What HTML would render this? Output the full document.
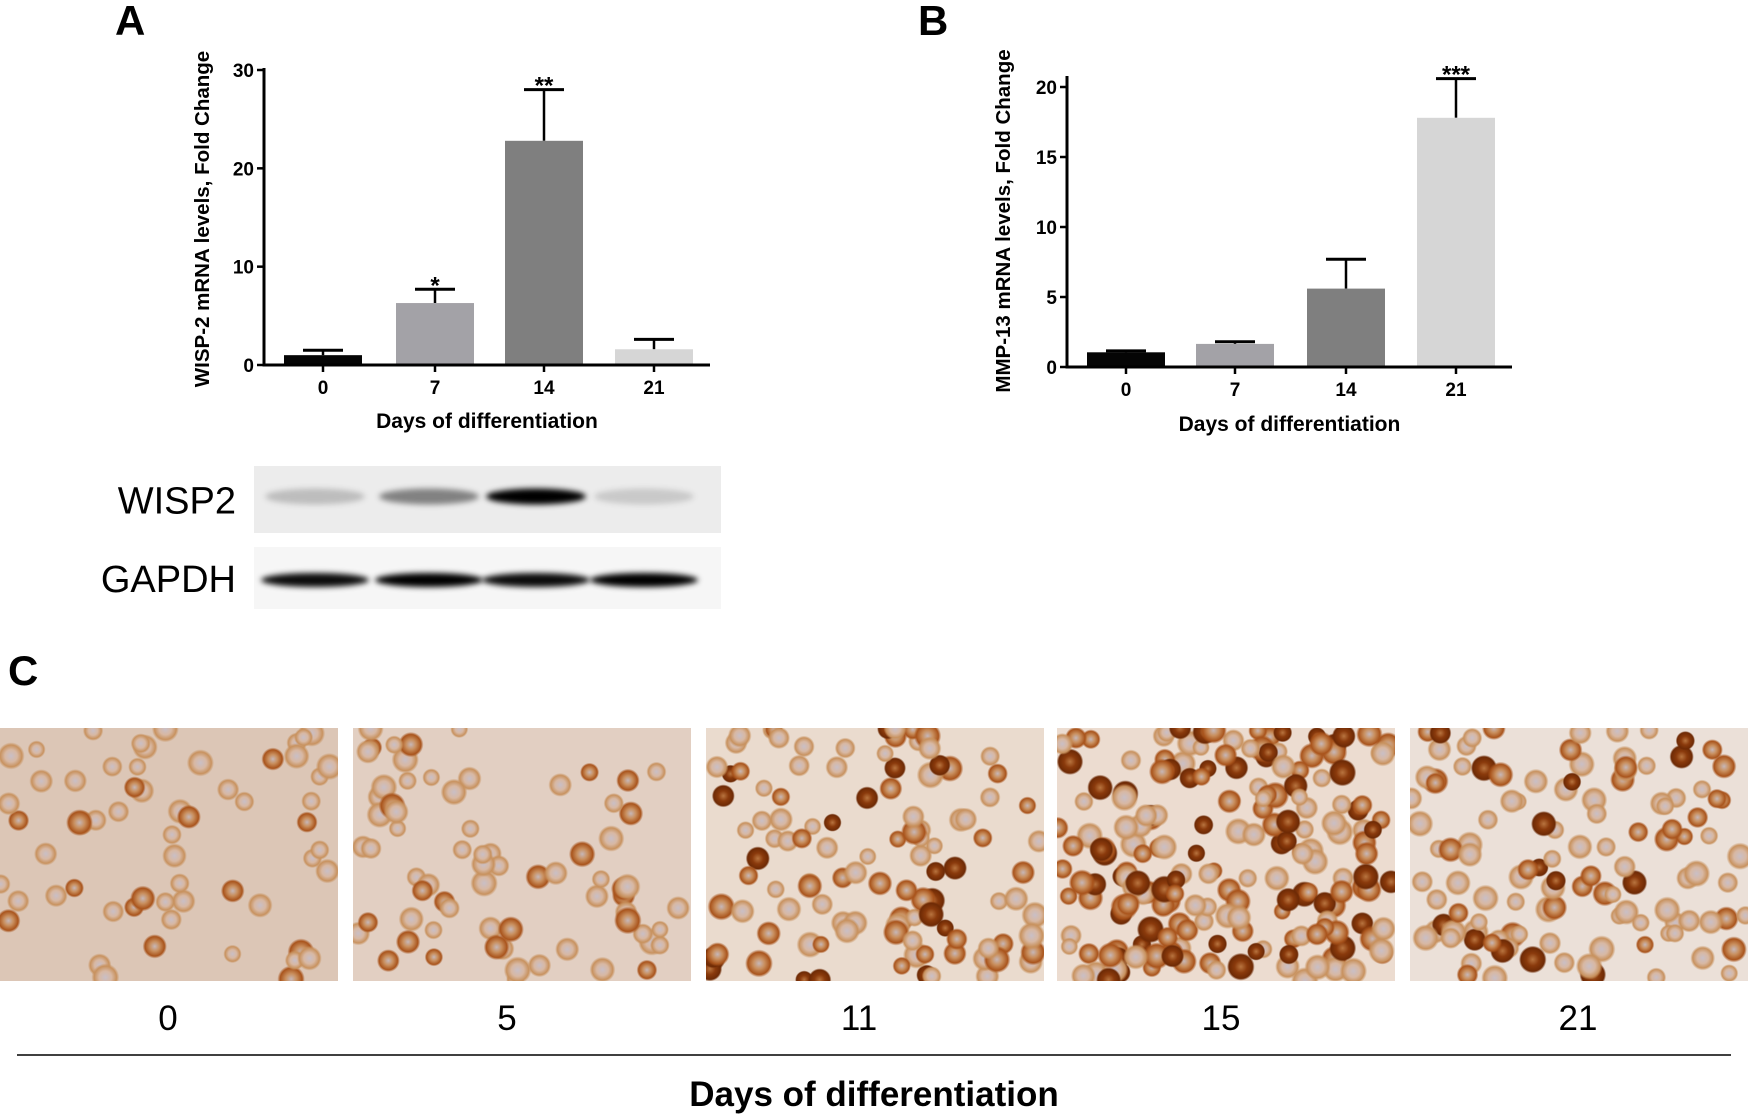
<!DOCTYPE html>
<html><head><meta charset="utf-8"><style>
body{margin:0;background:#fff;width:1748px;height:1115px;overflow:hidden;font-family:"Liberation Sans",sans-serif}
svg{position:absolute;left:0;top:0}
</style></head><body>
<svg id="fig" width="1748" height="1115" viewBox="0 0 1748 1115">
<defs>
<radialGradient id="cellL"><stop offset="0" stop-color="#c9bfc6"/><stop offset="0.45" stop-color="#d8b8a3"/><stop offset="0.8" stop-color="#c8925f"/><stop offset="1" stop-color="#c8925f" stop-opacity="0"/></radialGradient>
<radialGradient id="cellM"><stop offset="0" stop-color="#c6b7b8"/><stop offset="0.4" stop-color="#c98f5e"/><stop offset="0.8" stop-color="#a9541c"/><stop offset="1" stop-color="#a9541c" stop-opacity="0"/></radialGradient>
<radialGradient id="cellD"><stop offset="0" stop-color="#b8743f"/><stop offset="0.45" stop-color="#8a3a0c"/><stop offset="0.85" stop-color="#6e2a05"/><stop offset="1" stop-color="#6e2a05" stop-opacity="0"/></radialGradient>
<filter id="blur" x="-20%" y="-100%" width="140%" height="300%"><feGaussianBlur stdDeviation="3"/></filter>
</defs>
</svg>
<script>
// ---- chart data ----
const days = ["0","7","14","21"];
const wispMeans = [1.0, 6.3, 22.8, 1.6];
const wispErrs = [0.5, 1.4, 5.2, 1.0];
const wispStars = ["", "*", "**", ""];
const wispTicks = [0, 10, 20, 30];
const mmpMeans = [1.05, 1.65, 5.6, 17.8];
const mmpErrs = [0.1, 0.15, 2.1, 2.8];
const mmpStars = ["", "", "", "***"];
const mmpTicks = [0, 5, 10, 15, 20];
const barColors = ["#050505", "#a3a2a7", "#7f7f7f", "#d6d6d6"];
const wbWisp = [0.2, 0.45, 1.0, 0.15];
const wbGapdh = [0.95, 1.0, 0.95, 1.0];
const microDays = ["0","5","11","15","21"];

const NS = "http://www.w3.org/2000/svg";
const svg = document.getElementById('fig');
function mk(tag, attrs, parent){const e=document.createElementNS(NS,tag);for(const k in attrs)e.setAttribute(k,attrs[k]);(parent||svg).appendChild(e);return e;}
function txt(s, attrs, parent){const e=mk('text',attrs,parent);e.textContent=s;return e;}

function barChart(o){
  const g = mk('g',{});
  
  
  const y = v => o.y0 - (v/o.max)*(o.y0-o.yTop);
  const x = i => o.centers[i];
  o.means.forEach((m,i)=>{
    const el = o.errs[i];
    const ln = mk('line',{x1:x(i),x2:x(i),y1:y(m),y2:y(m+el),stroke:'#000','stroke-width':2.5},g);
    
    
    const cap = mk('line',{x1:x(i)-20,x2:x(i)+20,y1:y(m+el),y2:y(m+el),stroke:'#000','stroke-width':3},g);
    
    
    const r = mk('rect',{x:x(i)-o.bw/2,y:y(m),width:o.bw,height:o.y0-y(m),fill:barColors[i]},g);
    
    
    if(o.stars[i]){const s=txt(o.stars[i],{x:x(i),y:y(m+el)+4,'text-anchor':'middle','font-size':24,'font-weight':'bold'},g);
      
      }
    const t = txt(days[i],{x:x(i),y:o.y0+29,'text-anchor':'middle','font-size':19,'font-weight':'bold'},g);
    
    
    mk('line',{x1:x(i),x2:x(i),y1:o.y0,y2:o.y0+7,stroke:'#000','stroke-width':2.5},g);
  });
  const ya = mk('line',{x1:o.x0,x2:o.x0,y1:o.axTop,y2:o.y0+1.5,stroke:'#000','stroke-width':3},g);
  
  
  const xa = mk('line',{x1:o.x0-1.5,x2:o.x1,y1:o.y0,y2:o.y0,stroke:'#000','stroke-width':3},g);
  
  
  o.ticks.forEach(v=>{
    mk('line',{x1:o.x0-7,x2:o.x0,y1:y(v),y2:y(v),stroke:'#000','stroke-width':2.5},g);
    const t=txt(String(v),{x:o.x0-10,y:y(v)+7,'text-anchor':'end','font-size':19,'font-weight':'bold'},g);
    
    
  });
  const xt = txt('Days of differentiation',{x:(o.x0+o.x1)/2,y:o.xty,'text-anchor':'middle','font-size':21,'font-weight':'bold'},g);
  
  
  const yt = txt(o.ytitle,{x:0,y:0,'text-anchor':'middle','font-size':20.5,'font-weight':'bold',transform:`translate(${o.ytx},${o.ytc}) rotate(-90)`},g);
  
  
  const pl = txt(o.label,{x:o.lx,y:35,'font-size':42,'font-weight':'bold'},g);
  
  
}
barChart({name:'wisp2-chart',means:wispMeans,errs:wispErrs,stars:wispStars,ticks:wispTicks,max:30,x0:264,x1:710,y0:365,yTop:70,axTop:68,centers:[323,435,544,654],bw:78,xty:428,ytitle:'WISP-2 mRNA levels, Fold Change',ytx:209,ytc:219,label:'A',lx:115});
barChart({name:'mmp13-chart',means:mmpMeans,errs:mmpErrs,stars:mmpStars,ticks:mmpTicks,max:20,x0:1067,x1:1512,y0:367,yTop:87,axTop:76,centers:[1126,1235,1346,1456],bw:78,xty:431,ytitle:'MMP-13 mRNA levels, Fold Change',ytx:1010,ytc:221,label:'B',lx:918});

function blot(name,label,y0,h,vals,thick,rx){
  const g=mk('g',{});
  
  
  mk('rect',{x:254,y:y0,width:467,height:h,fill:name==='wisp2-blot'?'#ececec':'#f6f6f6'},g);
  const cx=[315,429,536,644];
  vals.forEach((v,i)=>{
    const e=mk('ellipse',{cx:cx[i],cy:y0+h/2+(name==='wisp2-blot'?-3:2),rx:rx,ry:thick/2,fill:'#000','fill-opacity':v,filter:'url(#blur)'},g);
    
    
  });
  const t=txt(label,{x:236,y:y0+h/2+14,'text-anchor':'end','font-size':38},g);
  
  
}
blot('wisp2-blot','WISP2',466,67,wbWisp,16,50);
blot('gapdh-blot','GAPDH',547,62,wbGapdh,14,54);

const cl = txt('C',{x:8,y:685,'font-size':42,'font-weight':'bold'});


const panelX=[0,353,706,1057,1410];
const labelX=[168,507,859,1221,1578];
const bgs=['#dcc6b6','#e2cfc2','#eadbce','#ecdcd0','#ebe0d8'];
const cfg=[[60,[0.85,0.15,0]],[70,[0.8,0.2,0]],[110,[0.5,0.3,0.2]],[190,[0.35,0.4,0.25]],[120,[0.6,0.28,0.12]]];
let seed=7;function rnd(){seed=(seed*16807)%2147483647;return seed/2147483647;}
panelX.forEach((px,p)=>{
  const g=mk('g',{});
  
  
  const cid='clip'+p;const cp=mk('clipPath',{id:cid},g);mk('rect',{x:px,y:728,width:338,height:253},cp);
  const inner=mk('g',{'clip-path':`url(#${cid})`},g);
  mk('rect',{x:px,y:728,width:338,height:253,fill:bgs[p]},inner);
  const [n,pr]=cfg[p];
  for(let k=0;k<n;k++){
    const r=rnd();const id=r<pr[0]?'cellL':(r<pr[0]+pr[1]?'cellM':'cellD');
    mk('circle',{cx:px+rnd()*338,cy:728+rnd()*253,r:9+rnd()*5,fill:`url(#${id})`},inner);
  }
  const t=txt(microDays[p],{x:labelX[p],y:1030,'text-anchor':'middle','font-size':35},g);
  
  
});
const hl=mk('line',{x1:17,x2:1731,y1:1055,y2:1055,stroke:'#000','stroke-width':1.5});


const ct=txt('Days of differentiation',{x:874,y:1106,'text-anchor':'middle','font-size':35,'font-weight':'bold'});


</script>
</body></html>
